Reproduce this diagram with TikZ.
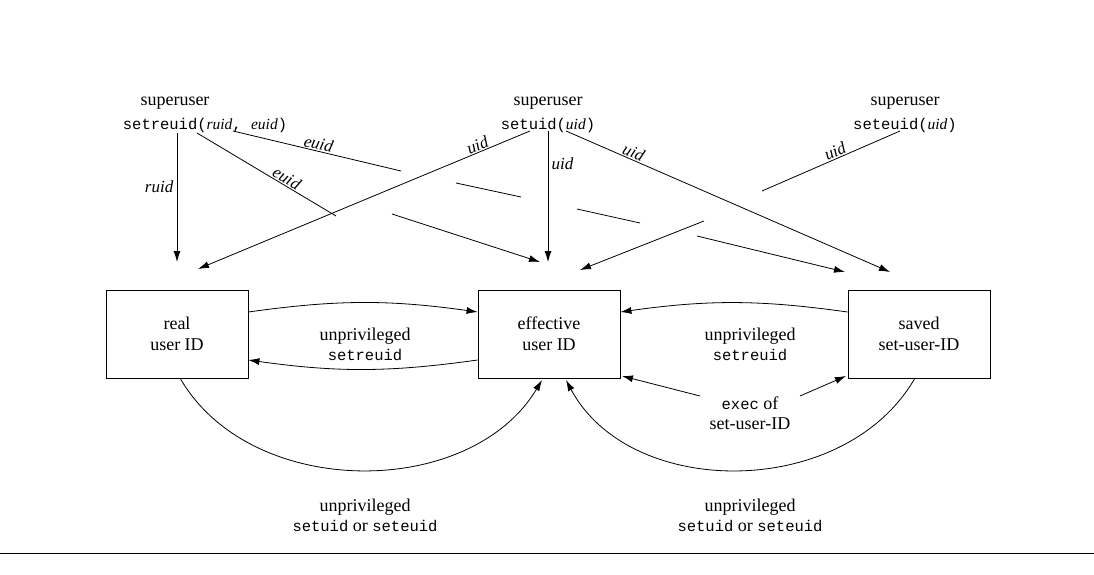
\documentclass[tikz,border=0pt]{standalone}
\usepackage{fontspec}
\setmainfont{Liberation Serif}
\setmonofont{Liberation Mono}
\usetikzlibrary{arrows.meta,calc}
\begin{document}
\begin{tikzpicture}[x=1pt,y=-1pt,
  ln/.style={line width=0.8pt},
  ar/.style={ln,-{Latex[length=11pt,width=7pt]}},
  box/.style={draw,line width=0.8pt,minimum width=142pt,minimum height=88pt,align=center,font=\fontsize{18}{21}\selectfont},
  lab/.style={align=center,font=\fontsize{18}{22}\selectfont},
  il/.style={font=\fontsize{17}{20}\selectfont\itshape},
  tt/.style={font=\fontsize{15.5}{18}\selectfont\ttfamily}]
\useasboundingbox (0,0) rectangle (1094,575);
\draw[line width=1pt] (0,553) -- (1094,553);
\node[box] (real) at (177,334) {real\\user ID};
\node[box] (eff) at (549,334) {effective\\user ID};
\node[box] (sav) at (919,334) {saved\\set-user-ID};
% top labels
\node[lab] (s1) at (175,103) {superuser};
\node[tt] (f1) at (205,125) {setreuid(\textrm{\itshape ruid},~\textrm{\itshape euid})};
\node[lab] (s2) at (548,103) {superuser};
\node[tt] (f2) at (548,125) {setuid(\textrm{\itshape uid})};
\node[lab] (s3) at (905,103) {superuser};
\node[tt] (f3) at (905,125) {seteuid(\textrm{\itshape uid})};
% coordinates
\coordinate (r0) at (177,133); \coordinate (r1) at (177,262);
\coordinate (a0) at (197,133); \coordinate (a1) at (336,216);
\coordinate (a2) at (392,214); \coordinate (a3) at (540,262);
\coordinate (b0) at (233,131); \coordinate (b1) at (401,171);
\coordinate (b2) at (456,183); \coordinate (b3) at (521,197);
\coordinate (b4) at (577,209); \coordinate (b5) at (640,223);
\coordinate (b6) at (697,236); \coordinate (b7) at (845,272);
\coordinate (c0) at (530,131); \coordinate (c1) at (198,269);
\coordinate (d0) at (548,131); \coordinate (d1) at (548,262);
\coordinate (e0) at (566,131); \coordinate (e1) at (890,272);
\coordinate (g0) at (900,131); \coordinate (g1) at (762,191);
\coordinate (g2) at (704,221); \coordinate (g3) at (580,270);
\draw[ar] (r0) -- node[il,left,pos=0.42] {ruid} (r1);
\draw[ln] (a0) -- node[il,sloped,above,pos=0.62,inner sep=1pt] {euid} (a1);
\draw[ar] (a2) -- (a3);
\draw[ln] (b0) -- node[il,sloped,above,pos=0.5,inner sep=1pt] {euid} (b1);
\draw[ln] (b2) -- (b3); \draw[ln] (b4) -- (b5);
\draw[ar] (b6) -- (b7);
\draw[ar] (c0) -- node[il,sloped,above,pos=0.15,inner sep=1pt] {uid} (c1);
\draw[ar] (d0) -- node[il,right,pos=0.25] {uid} (d1);
\draw[ar] (e0) -- node[il,sloped,above,pos=0.2,inner sep=1pt] {uid} (e1);
\draw[ln] (g0) -- node[il,sloped,above,pos=0.45,inner sep=1pt] {uid} (g1);
\draw[ar] (g2) -- (g3);
% between boxes
\draw[ar] (real.east|-0,312) to[bend left=8] (eff.west|-0,312);
\draw[ar] (eff.west|-0,360) to[bend left=8] (real.east|-0,360);
\node[lab] (u1) at (365,344) {unprivileged\\[-2pt]\texttt{\fontsize{15.5}{18}\selectfont setreuid}};
\draw[ar] (sav.west|-0,312) to[bend right=8] (eff.east|-0,312);
\node[lab] (u2) at (750,344) {unprivileged\\[-2pt]\texttt{\fontsize{15.5}{18}\selectfont setreuid}};
\node[lab] (ex) at (750,413) {\texttt{\fontsize{15.5}{18}\selectfont exec} of\\[-2pt]set-user-ID};
\coordinate (x1) at (700,396); \coordinate (x1e) at (622,376);
\coordinate (x2) at (800,396); \coordinate (x2e) at (846,376);
\draw[ar] (x1) -- (x1e);
\draw[ar] (x2) -- (x2e);
% big arcs
\coordinate (p0) at (180,378); \coordinate (p1) at (542,380);
\draw[ar] (p0) .. controls (250,500) and (470,500) .. (p1);
\coordinate (q0) at (915,378); \coordinate (q1) at (566,380);
\draw[ar] (q0) .. controls (845,500) and (630,500) .. (q1);
\node[lab] (l1) at (365,515) {unprivileged\\[-2pt]\texttt{\fontsize{15.5}{18}\selectfont setuid} or \texttt{\fontsize{15.5}{18}\selectfont seteuid}};
\node[lab] (l2) at (750,515) {unprivileged\\[-2pt]\texttt{\fontsize{15.5}{18}\selectfont setuid} or \texttt{\fontsize{15.5}{18}\selectfont seteuid}};
\end{tikzpicture}
\end{document}
